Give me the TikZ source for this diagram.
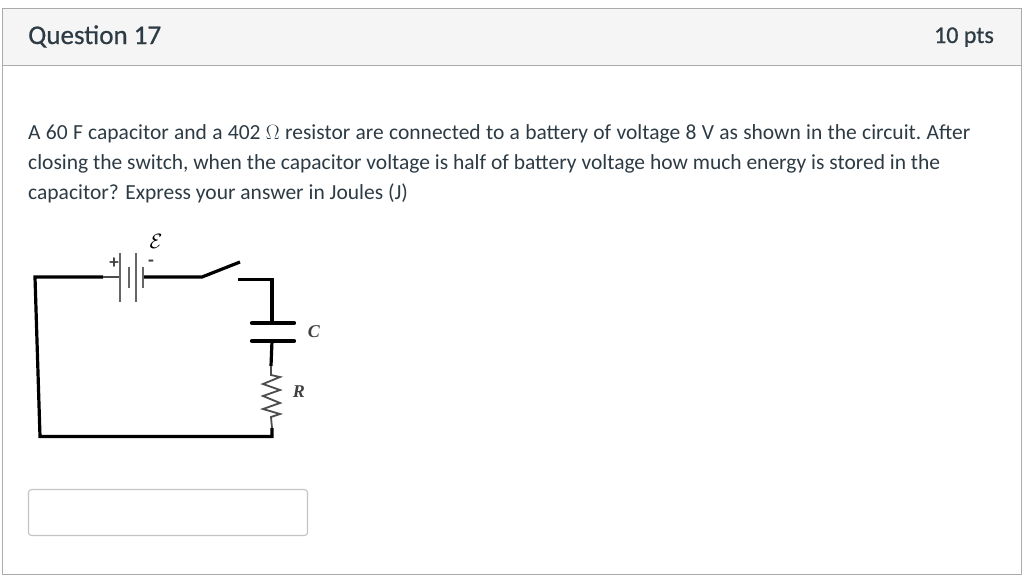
\documentclass[tikz,border=0pt]{standalone}
\usepackage{fontspec}
\setmainfont{Carlito}
\newfontfamily\headfont[FakeBold=0.6]{Carlito}
\newfontfamily\serifsym{Liberation Serif}
\definecolor{inkgray}{HTML}{2D3B45}
\definecolor{framegray}{HTML}{ABABAB}
\definecolor{headgray}{HTML}{F5F5F5}
\definecolor{boxgray}{HTML}{C4C4C4}
\tikzset{
  bodytext/.style={anchor=base west, inner sep=0pt, text=inkgray, font=\fontsize{21.5}{24}\selectfont},
  headtext/.style={inner sep=0pt, text=inkgray, font=\fontsize{27}{30}\headfont},
  wire/.style={black, line width=3.2pt},
  thinwire/.style={black!70, line width=1.8pt},
  plate/.style={black, line width=4.2pt, line cap=round},
  cell/.style={black!60, line width=2pt},
  symbol/.style={inner sep=0pt, text=black!75, font=\fontsize{18}{20}\serifsym\bfseries\itshape}
}
\begin{document}
\begin{tikzpicture}[x=1pt,y=-1pt]
  \useasboundingbox (0,0) rectangle (1029,579);
  % card
  \draw[framegray, line width=1pt, fill=white] (2.5,8.5) rectangle (1021.5,574);
  \draw[framegray, line width=1pt, fill=headgray] (2.5,8.5) rectangle (1021.5,65.5);
  \node[headtext, anchor=base west] (title) at (28,44) {Question 17};
  \node[headtext, anchor=base east, font=\fontsize{24}{28}\headfont] (points) at (994,43) {10 pts};

  \node[bodytext] (lineone) at (28,139) {\frenchspacing\spaceskip=5.3pt A 60 F capacitor and a 402 $\Omega$ resistor are connected to a battery of voltage 8 V as shown in the circuit. After};
  \node[bodytext] (linetwo) at (28,169) {closing the switch, when the capacitor voltage is half of battery voltage how much energy is stored in the};
  \node[bodytext] (linethree) at (28,199) {capacitor? Express your answer in Joules (J)};

  % circuit
  \coordinate (topleft) at (35,277);
  \coordinate (botleft) at (40,436.5);
  \coordinate (botright) at (272,436.5);
  \coordinate (wireend) at (103,277);
  \coordinate (cellin) at (120,277);
  \coordinate (cellout) at (143,277);
  \coordinate (pivot) at (202,277);
  \coordinate (swtip) at (240,262);
  \coordinate (contact) at (238,279.5);
  \coordinate (corner) at (272,279.5);
  \coordinate (capin) at (272,323);
  \coordinate (capout) at (272,341);
  \coordinate (reswire) at (271,366);
  \coordinate (restop) at (271,375);
  \coordinate (resbot) at (271,417);
  \coordinate (resend) at (272,428);

  \draw[wire, line join=miter] (wireend) -- (topleft) -- (botleft) -- (botright) -- (resend);
  \draw[thinwire] (wireend) -- (cellin);
  \draw[wire, line join=round] (cellout) -- (pivot) -- (swtip);
  \draw[wire, line join=miter] (contact) -- (corner) -- (capin);
  \draw[plate] (252,323) -- (294,323);
  \draw[plate] (252,341) -- (294,341);
  \draw[wire] (capout) -- (reswire);
  \draw[thinwire] (reswire) -- (restop) -- (280,377) -- (263,384) -- (280,390) -- (263,396) -- (280,403) -- (263,409) -- (280,414) -- (resbot) -- (resend);

  \draw[cell] (120,253) -- (120,302);
  \draw[cell] (129,267) -- (129,288);
  \draw[cell] (136,253) -- (136,302);
  \draw[cell] (143,267) -- (143,288);

  \node[symbol, font=\fontsize{19}{20}\selectfont\bfseries] (plus) at (114,263) {+};
  \node[symbol, font=\fontsize{19}{20}\selectfont\bfseries] (minus) at (151,263) {-};
  \node[symbol, text=black, font=\fontsize{20}{22}\selectfont] (emf) at (156,241) {$\mathcal{E}$};
  \node[symbol] (cap) at (314,332) {C};
  \node[symbol] (res) at (299,392) {R};

  % answer box
  \draw[boxgray, line width=1.1pt, rounded corners=3pt, fill=white] (28.5,489.5) rectangle (307.5,535.5);
\end{tikzpicture}
\end{document}
